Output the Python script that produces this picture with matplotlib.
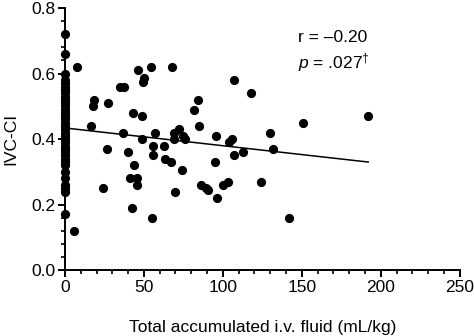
import matplotlib
matplotlib.use('Agg')
import matplotlib.pyplot as plt
import numpy as np

plt.rcParams['font.family'] = ['Liberation Sans', 'DejaVu Sans']
plt.rcParams['mathtext.fontset'] = 'custom'
plt.rcParams['mathtext.rm'] = 'Liberation Sans'
plt.rcParams['mathtext.it'] = 'Liberation Sans:italic'

# patients with no fluid (x = 0)
zero_y = [0.72, 0.66, 0.60, 0.58, 0.57, 0.56, 0.55, 0.54, 0.53, 0.52, 0.51,
          0.50, 0.49, 0.48, 0.47, 0.46, 0.45, 0.44, 0.43, 0.42, 0.41, 0.40,
          0.39, 0.38, 0.37, 0.36, 0.35, 0.34, 0.33, 0.32, 0.30, 0.28, 0.26,
          0.25, 0.24, 0.17]

# the rest
fluid = [7.6, 6, 18.4, 17.6, 16.3, 27.4, 26.4, 24.3, 34.8, 37.3, 36.8, 40,
         41, 42.6, 43.2, 43.7, 45.7, 45.4, 46.4, 48.5, 48.5, 49.4, 50, 54.8,
         54.9, 55.6, 55.9, 57, 62.7, 63.3, 67, 68, 69, 69, 69.6, 72, 74, 75,
         76, 81.9, 84, 84.6, 86, 89, 90.5, 95, 95.6, 96, 100, 103, 104, 105.7,
         107, 107, 113, 118, 124, 130, 131.6, 141.8, 151, 192]
ivc_ci = [0.62, 0.12, 0.52, 0.50, 0.44, 0.51, 0.37, 0.25, 0.56, 0.56, 0.42,
          0.36, 0.28, 0.19, 0.48, 0.32, 0.28, 0.26, 0.61, 0.47, 0.40, 0.575,
          0.585, 0.62, 0.16, 0.35, 0.38, 0.42, 0.38, 0.34, 0.33, 0.62, 0.42,
          0.40, 0.24, 0.43, 0.305, 0.41, 0.40, 0.49, 0.52, 0.44, 0.26, 0.25,
          0.245, 0.33, 0.41, 0.22, 0.26, 0.27, 0.39, 0.40, 0.58, 0.35, 0.36,
          0.54, 0.27, 0.42, 0.37, 0.16, 0.45, 0.47]

# regression line ends
fit_x = [0, 192]
fit_y = [0.434, 0.33]

x_all = [0] * len(zero_y) + fluid
y_all = zero_y + ivc_ci

fig = plt.figure(figsize=(4.74, 3.36), dpi=100)
ax = fig.add_axes([0.137, 0.196, 0.833, 0.78])

ax.plot(x_all, y_all, 'o', color='black', markersize=5.6, clip_on=False, zorder=3)
ax.plot(fit_x, fit_y, '-', color='black', linewidth=1.1)

ax.set_xlim(0, 250)
ax.set_ylim(0, 0.8)
ax.set_xticks([0, 50, 100, 150, 200, 250])
ax.set_xticks(np.arange(0, 251, 10), minor=True)
ax.set_yticks([0.0, 0.2, 0.4, 0.6, 0.8])
ax.set_yticks(np.arange(0, 0.81, 0.04), minor=True)
ax.set_yticklabels(['0.0', '0.2', '0.4', '0.6', '0.8'])

for s in ['top', 'right']:
    ax.spines[s].set_visible(False)
for s in ['left', 'bottom']:
    ax.spines[s].set_linewidth(1.4)
ax.tick_params(which='major', length=5, width=1.4, labelsize=12.5, pad=2)
ax.tick_params(which='minor', length=3, width=1.2)

ax.set_xlabel('Total accumulated i.v. fluid (mL/kg)', fontsize=12.5, labelpad=18)
ax.set_ylabel('IVC-CI', fontsize=12.5, labelpad=9)

ax.text(147.5, 0.711, 'r = \u20130.20', fontsize=12.5, va='center')
ax.text(147.5, 0.635, r'$\it{p}$ = .027$^{\dagger}$', fontsize=12.5, va='center')

fig.savefig('out.png', dpi=100)
